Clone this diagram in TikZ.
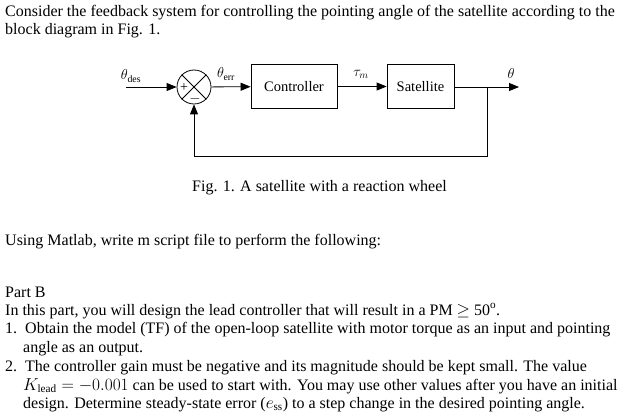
\documentclass[tikz,border=0pt]{standalone}
\usepackage{fontspec}
\setmainfont{Liberation Serif}
\usepackage{amsmath}
\usetikzlibrary{arrows.meta}
\begin{document}
\begin{tikzpicture}[x=1pt,y=-1pt,
  txt/.style={anchor=base west,inner sep=0pt,font=\fontsize{16}{18}\selectfont},
  blk/.style={draw,thick,minimum height=44pt,inner sep=0pt,font=\fontsize{14.5}{16}\selectfont},
  arr/.style={thick,-{Triangle[length=10pt,width=8pt]}},
  lab/.style={font=\fontsize{14}{16}\selectfont,inner sep=0pt}]
\useasboundingbox (0,0) rectangle (629,414);
\node[txt] (l1) at (5,17) {Consider the feedback system for controlling the pointing angle of the satellite according to the};
\node[txt] (l2) at (5,35) {block diagram in Fig. 1.};
% diagram
\coordinate (in) at (126,87);
\node[draw,thick,circle,minimum size=34pt,inner sep=0pt] (sum) at (194,87) {};
\draw[thick] (sum.north west) -- (sum.south east) (sum.north east) -- (sum.south west);
\node[lab] at (184,88) {+};
\node[lab] at (195,99) {$-$};
\node[blk,minimum width=86pt] (ctrl) at (294,86.5) {Controller};
\node[blk,minimum width=67pt] (sat) at (420.5,86.5) {Satellite};
\coordinate (out) at (519,87);
\coordinate (br) at (487,87);
\coordinate (fb) at (487,156);
\draw[arr] (in) -- (sum);
\draw[arr] (sum) -- (ctrl);
\draw[arr] (ctrl) -- (sat);
\draw[arr] (sat.east |- out) -- (out);
\draw[arr] (br) -- (fb) -| (sum.south);
\node[lab] (td) at (131,76) {$\theta_{\text{des}}$};
\node[lab] (te) at (226,74) {$\theta_{\text{err}}$};
\node[lab] (tm) at (361,74) {$\tau_m$};
\node[lab] (th) at (511,74) {$\theta$};
\node[txt] (cap) at (192,192) {Fig. 1. A satellite with a reaction wheel};
\node[txt] (u) at (5,245) {Using Matlab, write m script file to perform the following:};
\node[txt] (pb) at (5,297) {Part B};
\node[txt] (p1) at (5,315) {In this part, you will design the lead controller that will result in a PM $\geq$ 50\textsuperscript{o}.};
\node[txt] (i1) at (5,333) {1.\ \ Obtain the model (TF) of the open-loop satellite with motor torque as an input and pointing};
\node[txt] (i1b) at (23,352) {angle as an output.};
\node[txt] (i2) at (5,371) {2.\ \ The controller gain must be negative and its magnitude should be kept small. The value};
\node[txt] (i2b) at (23,390) {\smash{$K_{\text{lead}}=-0.001$} can be used to start with. You may use other values after you have an initial};
\node[txt] (i2c) at (23,408) {design. Determine steady-state error ($e_{\text{ss}}$) to a step change in the desired pointing angle.};
\end{tikzpicture}
\end{document}
